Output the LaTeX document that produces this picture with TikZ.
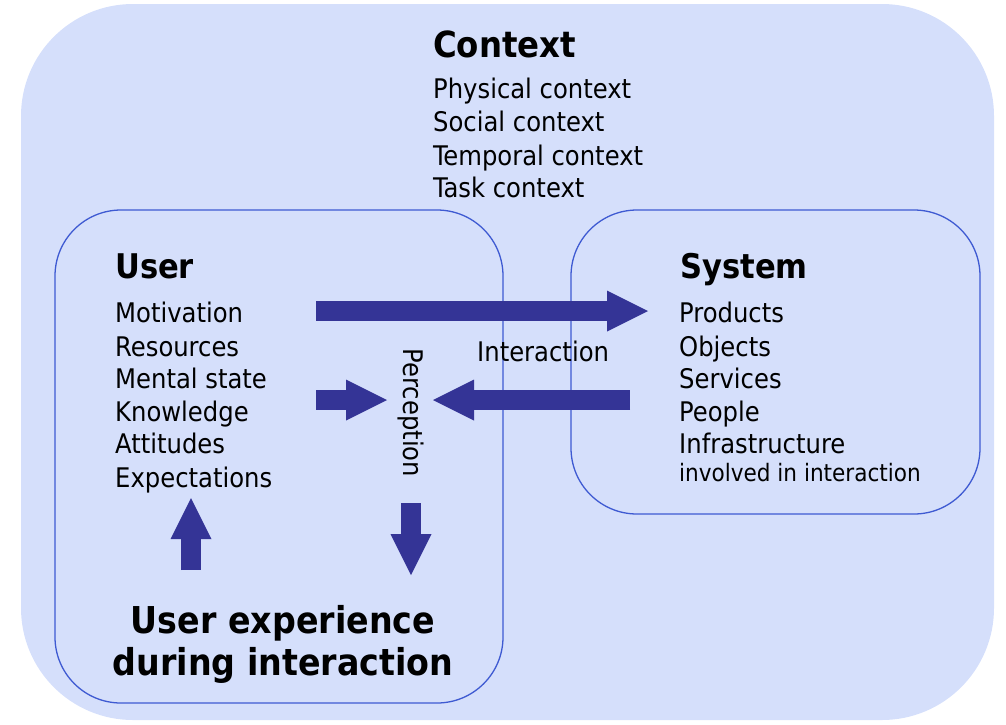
\documentclass[tikz,border=0pt]{standalone}
\usepackage{fontspec}
\setmainfont{DejaVu Sans Condensed}
\usepackage{tikz}
\usetikzlibrary{arrows.meta,positioning}

\definecolor{ctxfill}{RGB}{213,223,251}
\definecolor{boxline}{RGB}{62,90,210}
\definecolor{arrowblue}{RGB}{52,52,150}

\begin{document}
\begin{tikzpicture}[x=1pt, y=-1pt,
	txt/.style={anchor=base west, inner sep=0pt, font=\fontsize{27}{33}\selectfont},
	small/.style={anchor=base west, inner sep=0pt, font=\fontsize{24}{30}\selectfont},
	head/.style={anchor=base west, inner sep=0pt, font=\fontsize{34}{40}\selectfont\bfseries},
	bigarrow/.style={draw=arrowblue, line width=20pt, -{Triangle[width=41pt, length=41pt, line width=0pt]}},
	box/.style={draw=boxline, line width=1.3pt, rounded corners=66pt}]
			\useasboundingbox (0,0) rectangle (1006,724);
			\fill [ctxfill, rounded corners=112pt] (21,4) rectangle (994,720);
			\draw [box] (55,210) rectangle (503,703);
			\draw [box] (571,210) rectangle (980,514);

			\node [head, font=\fontsize{36}{44}\selectfont\bfseries] (ctx0) at (433,57) {Context};
			\node [txt] (ctx1) at (433,98) {Physical context};
			\node [txt] (ctx2) at (433,131) {Social context};
			\node [txt] (ctx3) at (433,165) {Temporal context};
			\node [txt] (ctx4) at (433,197) {Task context};

			\node [head] (user0) at (115,278) {User};
			\node [txt] (user1) at (115,322) {Motivation};
			\node [txt] (user2) at (115,356) {Resources};
			\node [txt] (user3) at (115,388) {Mental state};
			\node [txt] (user4) at (115,421) {Knowledge};
			\node [txt] (user5) at (115,453) {Attitudes};
			\node [txt] (user6) at (115,487) {Expectations};

			\node [head] (sys0) at (680,278) {System};
			\node [txt] (sys1) at (679,322) {Products};
			\node [txt] (sys2) at (679,356) {Objects};
			\node [txt] (sys3) at (679,388) {Services};
			\node [txt] (sys4) at (679,421) {People};
			\node [txt] (sys5) at (679,453) {Infrastructure};
			\node [small] (sys6) at (679,481) {involved in interaction};

			\node [txt, anchor=center, rotate=-90] (perc) at (411,413) {Perception};
			\node [txt] (inter) at (477,361) {Interaction};

			\node [head, anchor=base, font=\fontsize{37}{44}\selectfont\bfseries] (ux1) at (283,633) {User experience};
			\node [head, anchor=base, font=\fontsize{37}{44}\selectfont\bfseries] (ux2) at (283,675) {during interaction};

			\coordinate (a1) at (316,311);
			\coordinate (b1) at (648,311);
			\coordinate (a2) at (316,400);
			\coordinate (b2) at (387,400);
			\coordinate (a3) at (630,400);
			\coordinate (b3) at (433,400);
			\coordinate (a4) at (191,570);
			\coordinate (b4) at (191,498);
			\coordinate (a5) at (411,503);
			\coordinate (b5) at (411,575);

			\draw [bigarrow] (a1) to (b1);
			\draw [bigarrow] (a2) to (b2);
			\draw [bigarrow] (a3) to (b3);
			\draw [bigarrow] (a4) to (b4);
			\draw [bigarrow] (a5) to (b5);
	\end{tikzpicture}
\end{document}
